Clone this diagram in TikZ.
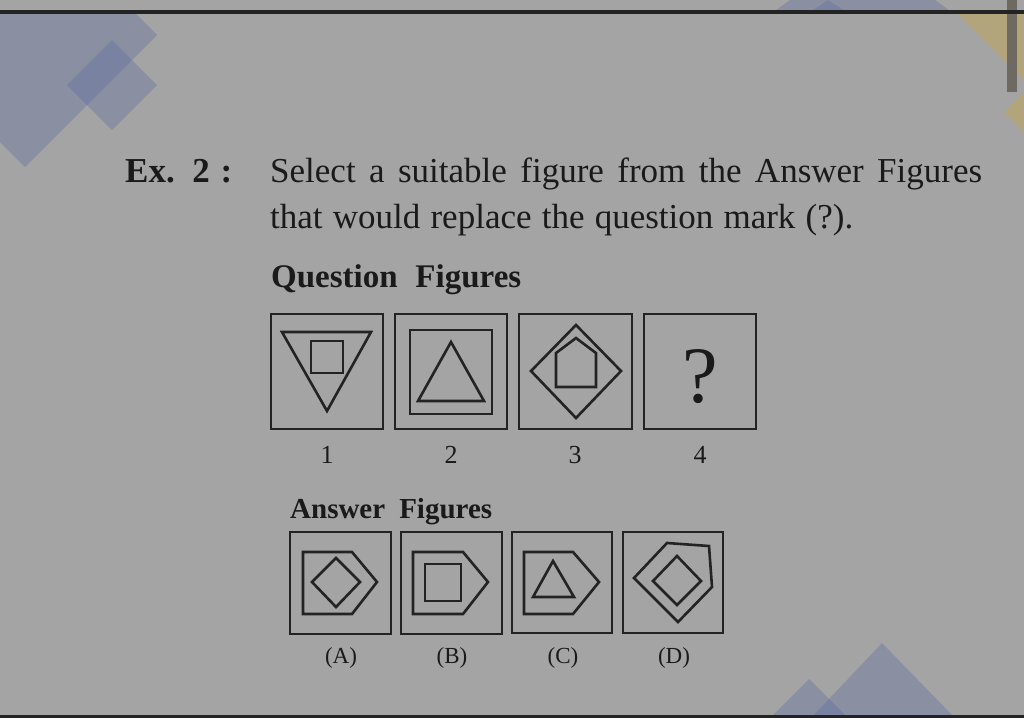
\documentclass[tikz,border=0pt]{standalone}
\usepackage{fontspec}
\setmainfont{Liberation Serif}
\definecolor{bg}{HTML}{A4A4A4}
\definecolor{ink}{HTML}{232323}
\definecolor{txt}{HTML}{1A1A1A}
\definecolor{deco}{HTML}{5A6AA0}
\definecolor{yel}{HTML}{B8A56A}
\definecolor{bar}{HTML}{6E6A62}
\tikzset{
  fig/.style={draw=ink, line width=2.6pt, line join=miter},
  frame/.style={draw=ink, line width=2.8pt},
  decofill/.style={fill=deco, fill opacity=0.35},
  lbl/.style={inner sep=0pt, anchor=base, text=txt},
  txtnode/.style={inner sep=0pt, anchor=base west, text=txt}
}
\begin{document}
\begin{tikzpicture}[x=1pt,y=-1pt]
\useasboundingbox (0,0) rectangle (1024,718);
\fill[bg] (0,0) rectangle (1024,718);
% decorations top-left
\begin{scope}
  \clip (0,13) rectangle (1024,714);
  \fill[decofill] (25,-97) -- (157,35) -- (25,167) -- (-107,35) -- cycle;
  \fill[decofill] (112,40) -- (157,85) -- (112,130) -- (67,85) -- cycle;
\end{scope}
% top strip decorations
\fill[decofill] (790,0) -- (935,0) -- (950,11) -- (775,11) -- cycle;
\fill[decofill] (812,11) -- (828,0) -- (845,11) -- cycle;
% top-right yellow
\fill[yel, opacity=0.7] (957,13) -- (1024,13) -- (1024,80) -- cycle;
\fill[yel, opacity=0.7] (1024,92) -- (1004,112) -- (1024,132) -- cycle;
\fill[bar] (1007,0) rectangle (1017,92);
% bottom-right triangles
\fill[decofill] (813,716) -- (882,643) -- (953,716) -- cycle;
\fill[decofill] (772,716) -- (809,679) -- (846,716) -- cycle;
% frame lines
\draw[ink, line width=3.5pt] (0,12) -- (1024,12);
\draw[ink, line width=3pt] (0,716.5) -- (1024,716.5);
% heading text
\node[txtnode, font=\fontsize{35}{40}\selectfont\bfseries] (ex) at (125,182) {\makebox[107pt][s]{Ex. 2 :}};
\node[txtnode, font=\fontsize{35}{40}\selectfont] (l1) at (270,182) {\makebox[712pt][s]{Select a suitable figure from the Answer Figures}};
\node[txtnode, font=\fontsize{35}{40}\selectfont] (l2) at (270,228) {\makebox[583pt][s]{that would replace the question mark (?).}};
\node[txtnode, font=\fontsize{33}{38}\selectfont\bfseries] (qf) at (271,287) {\makebox[250pt][s]{Question Figures}};
% question figures
\draw[frame] (271,314) rectangle (383,429);
\draw[fig] (282,332) -- (371,332) -- (327,411) -- cycle;
\draw[fig] (311,341) rectangle (343,373);
\draw[frame] (395,314) rectangle (507,429);
\draw[fig] (410,330) rectangle (492,414);
\draw[fig] (451,342) -- (484,401) -- (418,401) -- cycle;
\draw[frame] (519,314) rectangle (632,429);
\draw[fig] (576,325) -- (621,371) -- (576,418) -- (531,371) -- cycle;
\draw[fig] (576,338) -- (596,353) -- (596,387) -- (556,387) -- (556,353) -- cycle;
\draw[frame] (644,314) rectangle (756,429);
\node[lbl, font=\fontsize{80}{90}\selectfont] (qm) at (700,402) {?};
\node[lbl, font=\fontsize{26}{30}\selectfont] (n1) at (327,463) {1};
\node[lbl, font=\fontsize{26}{30}\selectfont] (n2) at (451,463) {2};
\node[lbl, font=\fontsize{26}{30}\selectfont] (n3) at (575,463) {3};
\node[lbl, font=\fontsize{26}{30}\selectfont] (n4) at (700,463) {4};
% answer figures
\node[txtnode, font=\fontsize{29}{34}\selectfont\bfseries] (af) at (290,518) {\makebox[202pt][s]{Answer Figures}};
\draw[frame] (290,532) rectangle (391,634);
\draw[fig] (303,552) -- (352,552) -- (377,582) -- (352,614) -- (303,614) -- cycle;
\draw[fig] (336,558) -- (360,582) -- (336,607) -- (312,582) -- cycle;
\draw[frame] (401,532) rectangle (502,634);
\draw[fig] (413,552) -- (463,552) -- (488,582) -- (463,614) -- (413,614) -- cycle;
\draw[fig] (425,564) rectangle (461,601);
\draw[frame] (512,532) rectangle (612,633);
\draw[fig] (524,552) -- (573,552) -- (599,582) -- (573,614) -- (524,614) -- cycle;
\draw[fig] (553,561) -- (574,597) -- (533,597) -- cycle;
\draw[frame] (623,532) rectangle (723,633);
\draw[fig] (667,543) -- (709,546) -- (712,587) -- (678,622) -- (634,578) -- cycle;
\draw[fig] (677,556) -- (701,581) -- (677,605) -- (653,581) -- cycle;
\node[lbl, font=\fontsize{23}{26}\selectfont] (la) at (341,663) {(A)};
\node[lbl, font=\fontsize{23}{26}\selectfont] (lb) at (452,663) {(B)};
\node[lbl, font=\fontsize{23}{26}\selectfont] (lc) at (563,663) {(C)};
\node[lbl, font=\fontsize{23}{26}\selectfont] (ld) at (674,663) {(D)};
\end{tikzpicture}
\end{document}
